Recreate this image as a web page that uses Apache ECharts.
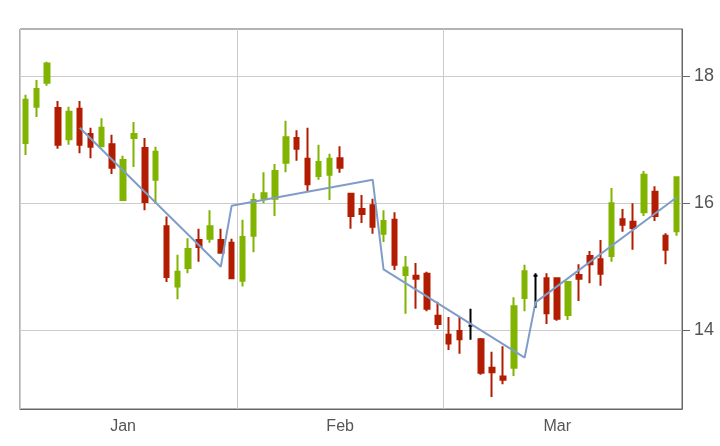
<!DOCTYPE html>
<html>
<head>
    <meta charset="UTF-8">
    <title>Candles</title>
    <script src="https://cdn.jsdelivr.net/npm/echarts@6/dist/echarts.min.js"></script>
</head>
<body style="margin:0">
    <div id="chart" style="width:720px; height:446px;"></div>
    <script>
        // [open, close, low, high] per trading day
        var opens  = [16.95,17.52,17.90,17.50,17.01,17.49,17.09,16.90,16.93,16.05,17.03,16.87,16.37,15.64,14.69,14.98,15.42,15.44,15.42,15.38,
                      14.78,15.49,16.08,16.07,16.64,17.03,16.70,16.43,16.45,16.71,16.15,15.91,15.97,15.52,15.74,14.87,14.86,14.89,14.23,
                      13.93,13.99,14.07,13.86,13.41,13.27,13.41,14.51,14.86,14.82,14.82,14.24,14.87,15.17,15.12,15.17,15.75,15.71,15.86,16.18,15.49,15.56];
        var closes = [17.63,17.80,18.20,16.92,17.44,16.92,16.89,17.19,16.56,16.68,17.09,16.02,16.81,14.84,14.92,15.28,15.31,15.64,15.22,14.82,
                      15.47,16.05,16.16,16.51,17.04,16.86,16.30,16.65,16.70,16.56,15.80,15.83,15.63,15.72,15.03,14.99,14.81,14.34,14.10,
                      13.79,13.86,14.07,13.33,13.34,13.22,14.38,14.93,14.86,14.27,14.18,14.76,14.81,15.04,14.89,16.00,15.66,15.61,16.45,15.80,15.27,16.41];
        var lows   = [16.76,17.36,17.85,16.86,16.92,16.79,16.71,16.90,16.46,16.04,16.57,15.89,15.99,14.76,14.49,14.90,15.08,15.38,15.22,14.81,
                      14.69,15.23,16.00,15.80,16.49,16.67,16.19,16.37,16.05,16.48,15.60,15.69,15.52,15.39,14.95,14.26,14.34,14.30,14.02,
                      13.69,13.63,13.85,13.30,12.95,13.15,13.28,14.30,14.35,14.10,14.15,14.16,14.46,14.74,14.70,15.08,15.55,15.27,15.80,15.72,15.04,15.49];
        var highs  = [17.71,17.94,18.23,17.61,17.52,17.61,17.19,17.34,17.08,16.75,17.28,17.03,16.89,15.79,15.19,15.45,15.60,15.89,15.60,15.44,
                      15.74,16.16,16.49,16.62,17.30,17.15,17.19,16.92,16.78,16.90,16.16,16.13,16.07,15.89,15.86,15.17,15.06,14.92,14.45,
                      14.21,14.21,14.34,13.88,13.66,13.75,14.52,15.03,14.90,14.90,14.82,14.76,15.04,15.25,15.42,16.24,15.91,16.00,16.51,16.27,15.53,16.41];
        var monthStarts = [0, 20, 39];
        var monthLabels = {9: 'Jan', 29: 'Feb', 49: 'Mar'};
        var trendIdx = [5, 18, 19, 32, 33, 46, 47, 60];
        var trendVal = [17.19, 15.00, 15.96, 16.37, 14.96, 13.57, 14.44, 16.09];
        var yTicks = [14, 16, 18];

        var days = opens.map(function (v, i) { return String(i); });
        var candles = opens.map(function (o, i) {
            var item = {value: [o, closes[i], lows[i], highs[i]]};
            if (o === closes[i]) item.itemStyle = {color: '#000', color0: '#000', borderColor: '#000', borderColor0: '#000'};
            return item;
        });
        var trend = days.map(function () { return null; });
        trendIdx.forEach(function (d, k) { trend[d] = trendVal[k]; });
        var isMonthStart = function (i) { return monthStarts.indexOf(i) >= 0; };

        var chart = echarts.init(document.getElementById('chart'), null, {renderer: 'canvas'});
        chart.setOption({
            animation: false,
            grid: {left: 20, right: 38, top: 29, bottom: 37, show: true, borderColor: '#666', borderWidth: 1},
            xAxis: {
                type: 'category', data: days, boundaryGap: true,
                axisLine: {lineStyle: {color: '#666'}},
                axisTick: {interval: function (i) { return isMonthStart(i); }, length: 8, lineStyle: {color: '#666'}},
                axisLabel: {interval: 0, color: '#555', fontSize: 16, fontFamily: 'Liberation Sans', margin: 10,
                    formatter: function (v) { return monthLabels[v] || ''; }},
                splitLine: {show: true, interval: function (i) { return isMonthStart(i); }, lineStyle: {color: '#ccc'}}
            },
            yAxis: {
                type: 'value', position: 'right', min: 12.76, max: 18.745, scale: true,
                axisLine: {show: true, lineStyle: {color: '#666'}},
                axisTick: {show: true, customValues: yTicks, length: 8, lineStyle: {color: '#666'}},
                axisLabel: {customValues: yTicks, color: '#555', fontSize: 18, fontFamily: 'Liberation Sans', margin: 12},
                splitLine: {show: true, lineStyle: {color: '#ccc'}}
            },
            series: [{
                type: 'candlestick', data: candles, barWidth: 5,
                itemStyle: {color: '#80b400', color0: '#b21c00', borderColor: '#80b400', borderColor0: '#b21c00', borderWidth: 2}
            }, {
                type: 'line', data: trend, connectNulls: true, symbol: 'none',
                lineStyle: {color: '#7f9dc8', width: 2}
            }]
        });
    </script>
</body>
</html>
